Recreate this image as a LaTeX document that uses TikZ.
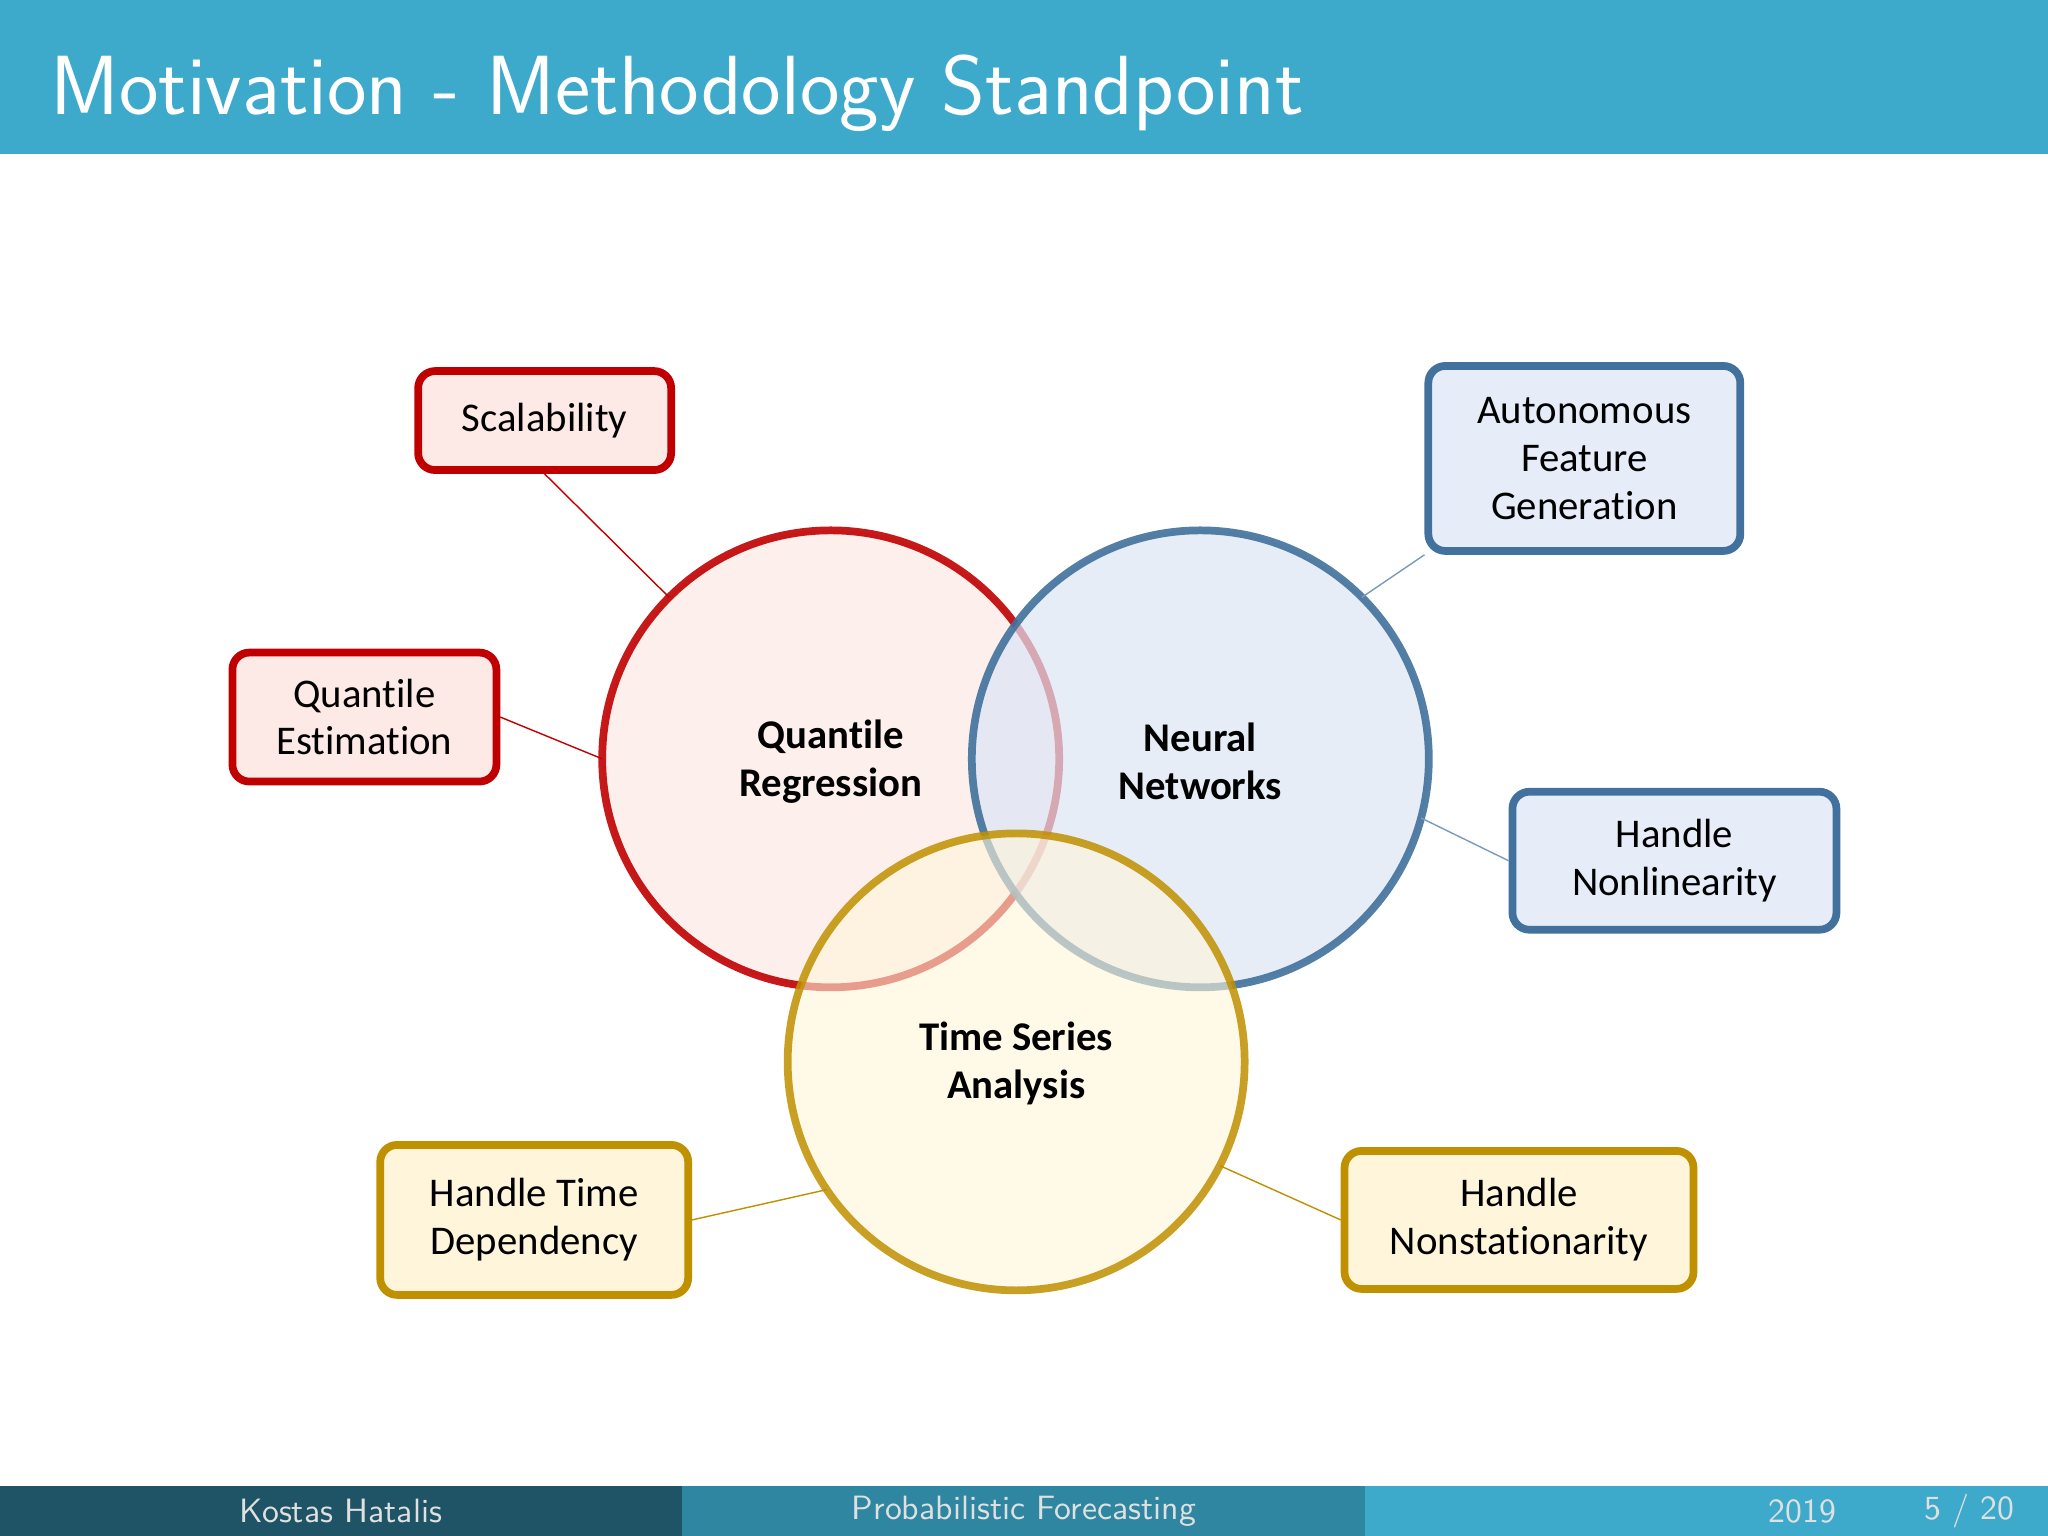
\documentclass[tikz,border=0pt]{standalone}
\usepackage{fontspec}
\setmainfont[RawFeature={-liga;-clig;-calt;-dlig}]{Carlito}
\usetikzlibrary{positioning}
\definecolor{headblue}{HTML}{3DA9CB}
\definecolor{footdark}{HTML}{1E5465}
\definecolor{footmid}{HTML}{2E86A0}
\definecolor{qrred}{HTML}{C00000}
\definecolor{nnblue}{HTML}{41719C}
\definecolor{tsgold}{HTML}{BF9000}
\definecolor{qrfill}{HTML}{FDE9E5}
\definecolor{nnfill}{HTML}{DCE6F5}
\definecolor{tsfill}{HTML}{FFF5DA}
\tikzset{
	x = 0.013061cm,	% one pixel of the slide
	y = -0.013061cm,
	%
	setcircle/.style =
	{
		circle,
		line width		= 2.2pt,
		minimum size	= 4.57cm,
		inner sep		= 0pt,
		outer sep		= 0pt,
		align			= center,
		font			= \fontsize{11.6}{13.6}\selectfont\bfseries
	},
	%
	featbox/.style =
	{
		rectangle,
		rounded corners	= 0.17cm,
		line width		= 2.2pt,
		inner sep		= 0pt,
		align			= center,
		font			= \fontsize{11.6}{13.6}\selectfont
	},
	%
	footnote/.style =
	{
		text	= white!88!black,
		font	= \sffamily\fontsize{9.6}{11}\selectfont
	}
}
\begin{document}
\begin{tikzpicture}



% slide frame
\useasboundingbox (0,0) rectangle (1568,1176);
\fill[white] (0,0) rectangle (1568,1176);
\fill[headblue] (0,0) rectangle (1568,118);
\node[anchor = base west, text = white, inner sep = 0pt,
	font = \sffamily\fontsize{23.9}{28}\selectfont] (title) at (38,88)
	{Motivation - Methodology Standpoint};

\fill[footdark] (0,1138) rectangle (522,1176);
\fill[footmid] (522,1138) rectangle (1045,1176);
\fill[headblue] (1045,1138) rectangle (1568,1176);
\node[footnote] (author) at (261,1157) {Kostas Hatalis};
\node[footnote] (talk) at (784,1157) {Probabilistic Forecasting};
\node[footnote] (year) at (1380,1157) {2019};
\node[footnote] (page) at (1508,1157) {5 / 20};



% the three circles
\node[setcircle, draw = qrred, fill = qrfill, fill opacity = 0.7, draw opacity = 0.9] (qr) at (636,581) {};
\node[setcircle, draw = nnblue, fill = nnfill, fill opacity = 0.7, draw opacity = 0.9] (nn) at (919,581) {};
\node[setcircle, draw = tsgold, fill = tsfill, fill opacity = 0.6, draw opacity = 0.85] (ts) at (778,813) {};

\node[setcircle] at (636,583) {Quantile\\Regression};
\node[setcircle] at (919,583) {Neural\\Networks};
\node[setcircle] at (778,814) {Time Series\\Analysis};



% feature boxes
\node[featbox, draw = qrred, fill = qrfill, minimum width = 2.53cm, minimum height = 0.99cm]
	(scal) at (417,322) {Scalability};
\node[featbox, draw = qrred, fill = qrfill, minimum width = 2.64cm, minimum height = 1.29cm]
	(qe) at (279,549) {Quantile\\Estimation};
\node[featbox, draw = nnblue, fill = nnfill!70, minimum width = 3.12cm, minimum height = 1.85cm]
	(afg) at (1213,351) {Autonomous\\Feature\\Generation};
\node[featbox, draw = nnblue, fill = nnfill!70, minimum width = 3.24cm, minimum height = 1.38cm]
	(hn) at (1282,659) {Handle\\Nonlinearity};
\node[featbox, draw = tsgold, fill = tsfill, minimum width = 3.08cm, minimum height = 1.50cm]
	(htd) at (409,934) {Handle Time\\Dependency};
\node[featbox, draw = tsgold, fill = tsfill, minimum width = 3.49cm, minimum height = 1.38cm]
	(hns) at (1163,934) {Handle\\Nonstationarity};



% connectors
\draw[qrred, thin] (scal.south) -- (qr.135);
\draw[qrred, thin] (qe.east) -- (qr.180);
\draw[nnblue!70, thin] (afg.south west) -- (nn.45);
\draw[nnblue!70, thin] (hn.west) -- (nn.-15);
\draw[tsgold, thin] (htd.east) -- (ts.214);
\draw[tsgold, thin] (hns.west) -- (ts.-27);



\end{tikzpicture}
\end{document}
